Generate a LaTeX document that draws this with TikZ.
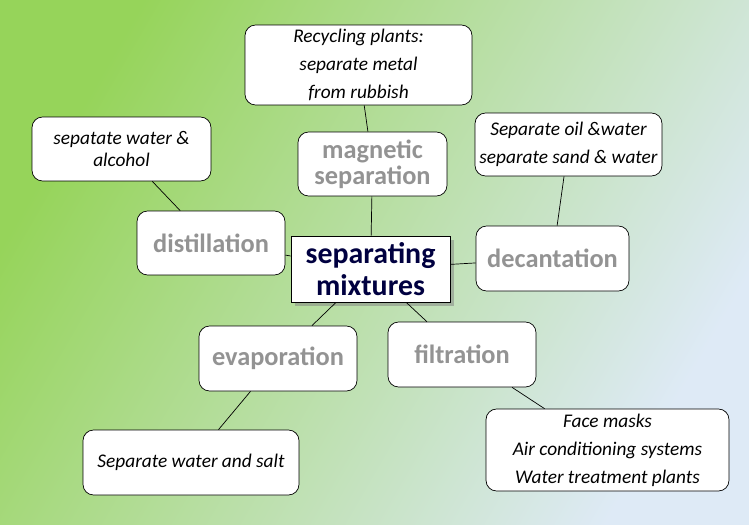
\documentclass[tikz,border=0pt]{standalone}
\usepackage{fontspec}
\setmainfont{Carlito}
\usetikzlibrary{positioning,shadows}
\definecolor{bggreen}{RGB}{150,212,90}
\definecolor{bgmid}{RGB}{205,228,205}
\definecolor{bgblue}{RGB}{222,234,246}

\begin{document}
\begin{tikzpicture}[
    x=0.02cm, y=-0.02cm,
    box/.style={rectangle, draw, rounded corners=6pt, fill=white, align=center},
    topic/.style={box, font=\fontsize{15}{15}\selectfont\bfseries, text=gray!85},
    note/.style={box, font=\fontsize{11}{16}\selectfont\itshape},
    hub/.style={rectangle, draw, fill=white, align=center, drop shadow={opacity=0.5},
        font=\fontsize{17}{18}\selectfont\bfseries, text=blue!25!black},
    link/.style={thin}
]

% Background
\shade[left color=bggreen, middle color=bgmid, right color=bgblue, shading angle=60]
    (0,0) rectangle (749,524);
\useasboundingbox (0,0) rectangle (749,524);

% Centre
\node[hub, minimum width=3.18cm, minimum height=1.32cm] (hub) at (370.5,269) {separating\\mixtures};

% Topics
\node[topic, minimum width=2.98cm, minimum height=1.28cm] (magnetic) at (372.5,164) {magnetic\\separation};
\node[topic, minimum width=2.96cm, minimum height=1.28cm] (distil) at (211,243) {distillation};
\node[topic, minimum width=3.06cm, minimum height=1.3cm] (decant) at (552.5,258.5) {decantation};
\node[topic, minimum width=3.16cm, minimum height=1.3cm] (evap) at (278,358.5) {evaporation};
\node[topic, minimum width=2.96cm, minimum height=1.3cm] (filter) at (462,354.5) {filtration};

% Examples
\node[note, minimum width=4.54cm, minimum height=1.6cm, inner sep=1pt] (recycle) at (358.5,65) {Recycling plants:\\separate metal\\from rubbish};
\node[note, minimum width=3.58cm, minimum height=1.28cm, font=\fontsize{11}{13}\selectfont\itshape] (alcohol) at (121.5,149) {sepatate water \&\\alcohol};
\node[note, minimum width=3.74cm, minimum height=1.26cm, inner sep=1pt] (oil) at (568.5,144.5) {Separate oil \&water\\separate sand \& water};
\node[note, minimum width=4.32cm, minimum height=1.3cm] (salt) at (191,462.5) {Separate water and salt};
\node[note, minimum width=4.86cm, minimum height=1.64cm, inner sep=1pt] (masks) at (607.5,450) {Face masks\\Air conditioning systems\\Water treatment plants};

% Connectors
\draw[link] (hub) -- (magnetic);
\draw[link] (hub) -- (distil);
\draw[link] (hub) -- (decant);
\draw[link] (hub) -- (evap);
\draw[link] (hub) -- (filter);
\draw[link] (magnetic) -- (recycle);
\draw[link] (distil) -- (alcohol);
\draw[link] (decant) -- (oil);
\draw[link] (evap) -- (salt);
\draw[link] (filter) -- (masks);

\end{tikzpicture}
\end{document}
